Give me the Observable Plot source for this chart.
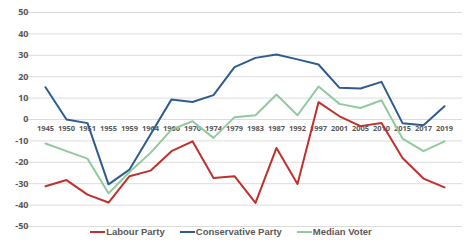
<!DOCTYPE html>
<html>
<head>
<meta charset="utf-8">
<script src="https://cdn.jsdelivr.net/npm/d3@7"></script>
<script src="https://cdn.jsdelivr.net/npm/@observablehq/plot@0.6"></script>
<style>
  html, body { margin: 0; padding: 0; background: #fff; }
  #chart { width: 474px; height: 243px; position: relative; font-family: "Liberation Sans", Arial, sans-serif; }
  .legend { display: flex; justify-content: center; align-items: center; gap: 15px; font: bold 9.5px "Liberation Sans", Arial, sans-serif; color: #595959; height: 14px; line-height: 14px; margin-top: -6px; padding-right: 12px; }
  .legend span.sw { display: inline-block; width: 15px; height: 2px; margin-right: 1px; vertical-align: middle; }
</style>
</head>
<body>
<div id="chart"></div>
<script>
const years = ["1945","1950","1951","1955","1959","1964","1966","1970","1974","1979","1983","1987","1992","1997","2001","2005","2010","2015","2017","2019"];
const labour = [-31.2,-28.3,-35.1,-38.8,-26.5,-23.9,-14.8,-10.2,-27.3,-26.5,-39,-13.3,-30.1,8.1,1.5,-3.1,-1.6,-18,-27.6,-31.7];
const conservative = [15.1,0,-1.7,-30.3,-23.4,-7,9.4,8.2,11.4,24.5,28.8,30.4,28.1,25.7,14.8,14.5,17.6,-1.7,-2.7,6.2];
const median = [-11.2,-14.8,-18.3,-34.5,-24.5,-15.6,-4.7,-0.8,-8.6,1.1,2,11.7,2,15.4,7.3,5.4,9,-8.9,-14.8,-10.2];
const seriesNames = ["Labour Party","Conservative Party","Median Voter"];
const seriesColors = ["#c0302c","#2f5c8f","#92c9a0"];
const yTicks = [50,40,30,20,10,0,-10,-20,-30,-40,-50];

const seriesValues = [labour, conservative, median];
const rows = [];
seriesNames.forEach((s, i) => years.forEach((y, j) => rows.push({series: s, year: y, value: seriesValues[i][j]})));

const chart = Plot.plot({
  width: 474,
  height: 231,
  marginTop: 12,
  marginBottom: 5,
  marginLeft: 26,
  marginRight: 12,
  x: {type: "point", domain: years, padding: 0.5, axis: null},
  y: {domain: [-50, 50], axis: null},
  color: {domain: seriesNames, range: seriesColors},
  marks: [
    Plot.ruleY(yTicks, {stroke: "#dcdcdc", strokeWidth: 1}),
    Plot.text(yTicks, {x: () => years[0], y: d => d, text: d => String(d), textAnchor: "end", dx: -17, fill: "#595959", fontSize: 9, fontWeight: "bold"}),
    Plot.text(years, {x: d => d, y: () => 0, text: d => d, dy: 9, fill: "#595959", fontSize: 7.5, fontWeight: "bold"}),
    Plot.line(rows, {x: "year", y: "value", z: "series", stroke: "series", strokeWidth: 2})
  ]
});
chart.style.display = "block";
document.getElementById("chart").appendChild(chart);

const legend = document.createElement("div");
legend.className = "legend";
seriesNames.forEach((s, i) => {
  const item = document.createElement("div");
  item.innerHTML = `<span class="sw" style="background:${seriesColors[i]}"></span>${s}`;
  legend.appendChild(item);
});
document.getElementById("chart").appendChild(legend);
</script>
</body>
</html>
